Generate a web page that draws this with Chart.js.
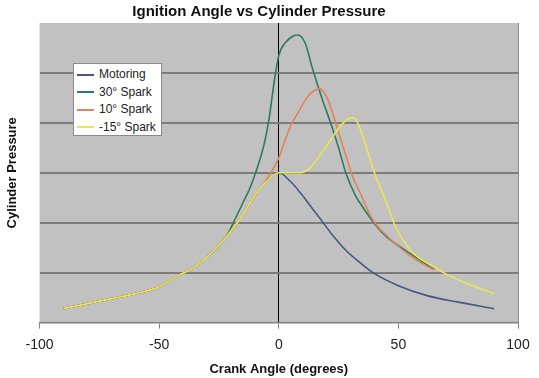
<!DOCTYPE html>
<html>
<head>
<meta charset="utf-8">
<script src="https://cdn.jsdelivr.net/npm/chart.js@4/dist/chart.umd.min.js"></script>
<style>
  body { margin: 0; background: #fff; }
  #wrap { position: relative; width: 539px; height: 378px; }
  #legend {
    position: absolute; left: 73px; top: 63px; width: 89px; height: 73px;
    background: #fff; border: 1px solid #8a8a8a; box-sizing: border-box;
    font: 12px "Liberation Sans", Arial, sans-serif; color: #222;
    padding-top: 2px;
  }
  #legend div { height: 17.5px; line-height: 17.5px; white-space: nowrap; }
  #legend span { display: inline-block; width: 17px; height: 0; border-top: 2px solid; vertical-align: middle; margin: 0 5px 0 3px; }
</style>
</head>
<body>
<div id="wrap">
  <canvas id="chart" width="539" height="378"></canvas>
  <div id="legend"></div>
</div>
<script>
const seriesNames = ["Motoring", "30° Spark", "10° Spark", "-15° Spark"];
const seriesColors = ["#4a5684", "#2b7c5c", "#e4825a", "#e6e84e"];

const motoringDeg = [-90, -80, -70, -60, -50, -42, -35, -29, -24, -19, -15, -12, -8, -4, 0, 5, 9, 13, 17, 22, 28, 34, 40, 50, 62, 75, 90];
const motoringP = [0.28, 0.38, 0.48, 0.58, 0.72, 0.94, 1.12, 1.35, 1.6, 1.9, 2.15, 2.4, 2.68, 2.88, 3.0, 2.82, 2.6, 2.35, 2.1, 1.78, 1.45, 1.2, 0.98, 0.74, 0.54, 0.41, 0.28];

const spark30Deg = [-90, -80, -70, -60, -50, -42, -35, -29, -24, -21, -18, -15, -12, -9, -6, -4, -2, 0, 3, 6, 8, 11, 14, 18, 22, 25, 28, 32, 36, 40, 45, 55, 65];
const spark30P = [0.28, 0.38, 0.48, 0.58, 0.72, 0.94, 1.12, 1.35, 1.6, 1.8, 2.1, 2.4, 2.7, 3.1, 3.6, 4.1, 4.8, 5.35, 5.62, 5.74, 5.76, 5.6, 5.1, 4.5, 3.95, 3.5, 3.0, 2.55, 2.25, 1.98, 1.72, 1.38, 1.06];

const spark10Deg = [-90, -80, -70, -60, -50, -42, -35, -29, -24, -19, -15, -12, -8, -4, 0, 3, 5, 8, 11, 14, 17, 20, 23, 26, 29, 31, 34, 39, 46, 56, 65];
const spark10P = [0.28, 0.38, 0.48, 0.58, 0.72, 0.94, 1.12, 1.35, 1.6, 1.9, 2.15, 2.4, 2.68, 2.95, 3.3, 3.7, 3.95, 4.2, 4.45, 4.62, 4.68, 4.52, 4.12, 3.65, 3.2, 2.9, 2.6, 2.08, 1.7, 1.3, 1.05];

const sparkM15Deg = [-90, -80, -70, -60, -50, -42, -35, -29, -24, -19, -15, -12, -8, -4, 0, 4, 9, 13, 18, 22, 26, 29, 31, 33, 36, 40, 45, 49, 55, 60, 65, 70, 79, 90];
const sparkM15P = [0.28, 0.38, 0.48, 0.58, 0.72, 0.94, 1.12, 1.35, 1.6, 1.9, 2.15, 2.4, 2.68, 2.88, 3.0, 3.0, 3.0, 3.1, 3.4, 3.68, 3.95, 4.08, 4.1, 4.0, 3.6, 3.0, 2.4, 1.9, 1.45, 1.25, 1.12, 0.97, 0.78, 0.58];

const xTicks = [-100, -50, 0, 50, 100];

function pts(xs, ys) {
  return xs.map((x, i) => ({ x: x, y: ys[i] }));
}

const allDeg = [motoringDeg, spark30Deg, spark10Deg, sparkM15Deg];
const allP = [motoringP, spark30P, spark10P, sparkM15P];
// yellow drawn on top, motoring at the bottom
const drawOrder = [3, 2, 1, 0];

// gray plot area and right edge
const plotBg = {
  id: 'plotBg',
  beforeDraw(chart) {
    const { ctx, chartArea: a } = chart;
    ctx.save();
    ctx.fillStyle = '#c1c1c1';
    ctx.fillRect(a.left, a.top, a.right - a.left, a.bottom - a.top);
    ctx.strokeStyle = '#8c8c8c';
    ctx.lineWidth = 1;
    ctx.beginPath();
    ctx.moveTo(a.right + 0.5, a.top);
    ctx.lineTo(a.right + 0.5, a.bottom);
    ctx.stroke();
    ctx.restore();
  }
};

new Chart(document.getElementById('chart'), {
  type: 'line',
  data: {
    datasets: seriesNames.map((name, i) => ({
      label: name,
      data: pts(allDeg[i], allP[i]),
      borderColor: seriesColors[i],
      borderWidth: 1.6,
      pointRadius: 0,
      fill: false,
      cubicInterpolationMode: 'monotone',
      order: drawOrder[i]
    }))
  },
  options: {
    responsive: false,
    animation: false,
    layout: { padding: { left: 0, right: 21, top: 0, bottom: 0 } },
    plugins: {
      legend: { display: false },
      tooltip: { enabled: false },
      title: {
        display: true,
        text: 'Ignition Angle vs Cylinder Pressure',
        color: '#111',
        font: { family: '"Liberation Sans", Arial, sans-serif', size: 15, weight: 'bold' },
        padding: { top: 3, bottom: 2 }
      }
    },
    scales: {
      x: {
        type: 'linear',
        min: -100,
        max: 100,
        afterBuildTicks: axis => { axis.ticks = xTicks.map(v => ({ value: v })); },
        grid: {
          color: c => (c.tick && c.tick.value === 0 ? '#000' : 'rgba(0,0,0,0)'),
          lineWidth: 1,
          tickColor: '#808080',
          tickLength: 6
        },
        border: { color: '#808080', width: 1.5 },
        ticks: {
          color: '#222',
          padding: 8,
          maxRotation: 0,
          font: { family: '"Liberation Sans", Arial, sans-serif', size: 14 }
        },
        title: {
          display: true,
          text: 'Crank Angle (degrees)',
          color: '#111',
          font: { family: '"Liberation Sans", Arial, sans-serif', size: 13, weight: 'bold' },
          padding: { top: 0, bottom: 1 }
        }
      },
      y: {
        min: 0,
        max: 6,
        ticks: { display: false, stepSize: 1 },
        grid: {
          drawTicks: false,
          color: c => (c.tick && (c.tick.value === 0 || c.tick.value === 6) ? 'rgba(0,0,0,0)' : '#7c7c7c'),
          lineWidth: 2
        },
        border: { display: false },
        title: {
          display: true,
          text: 'Cylinder Pressure',
          color: '#111',
          font: { family: '"Liberation Sans", Arial, sans-serif', size: 13, weight: 'bold' },
          padding: { top: 5, bottom: 19 }
        }
      }
    }
  },
  plugins: [plotBg]
});

// legend box inside the plot
const legend = document.getElementById('legend');
seriesNames.forEach((name, i) => {
  const row = document.createElement('div');
  row.innerHTML = '<span style="border-color:' + seriesColors[i] + '"></span>' + name;
  legend.appendChild(row);
});
</script>
</body>
</html>
